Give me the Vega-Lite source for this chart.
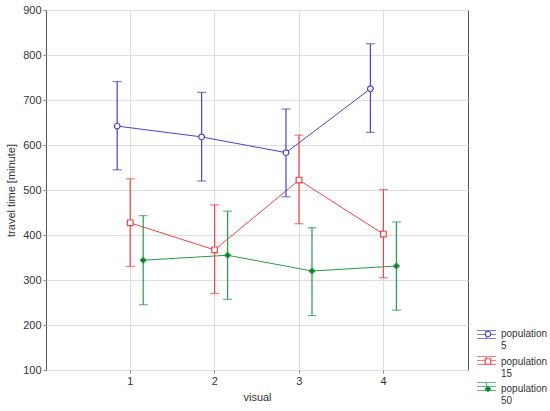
{
  "$schema": "https://vega.github.io/schema/vega-lite/v6.json",
  "autosize": {"type": "none"},
  "padding": {"left": 46, "top": 10, "right": 82, "bottom": 41},
  "width": 422,
  "height": 360,
  "background": "white",
  "config": {
    "font": "Liberation Sans",
    "view": {"stroke": "#555555", "strokeWidth": 1},
    "axis": {
      "labelFont": "Liberation Sans",
      "titleFont": "Liberation Sans",
      "labelFontSize": 11,
      "titleFontSize": 11,
      "labelColor": "#333333",
      "titleColor": "#333333",
      "titleFontWeight": "normal",
      "gridColor": "#dddddd",
      "domainColor": "#555555",
      "tickColor": "#888888",
      "tickSize": 3
    },
    "legend": {
      "labelFont": "Liberation Sans",
      "labelFontSize": 10,
      "labelColor": "#333333",
      "padding": 0
    }
  },
  "data": {
    "values": [
      {"visual": "1", "population": "5", "mean": 642, "lo": 545, "hi": 741},
      {"visual": "2", "population": "5", "mean": 618, "lo": 520, "hi": 717},
      {"visual": "3", "population": "5", "mean": 583, "lo": 485, "hi": 680},
      {"visual": "4", "population": "5", "mean": 725, "lo": 628, "hi": 825},
      {"visual": "1", "population": "15", "mean": 427, "lo": 330, "hi": 525},
      {"visual": "2", "population": "15", "mean": 367, "lo": 270, "hi": 467},
      {"visual": "3", "population": "15", "mean": 522, "lo": 425, "hi": 622},
      {"visual": "4", "population": "15", "mean": 402, "lo": 305, "hi": 501},
      {"visual": "1", "population": "50", "mean": 344, "lo": 245, "hi": 443},
      {"visual": "2", "population": "50", "mean": 355, "lo": 257, "hi": 453},
      {"visual": "3", "population": "50", "mean": 320, "lo": 221, "hi": 416},
      {"visual": "4", "population": "50", "mean": 331, "lo": 233, "hi": 429}
    ]
  },
  "encoding": {
    "x": {
      "field": "visual",
      "type": "ordinal",
      "title": "visual",
      "scale": {"type": "band", "domain": ["1", "2", "3", "4"], "paddingInner": 0, "paddingOuter": 0.5},
      "axis": {"labelAngle": 0, "grid": true, "titlePadding": 5, "labelPadding": 2, "domain": false}
    },
    "xOffset": {
      "field": "population",
      "type": "nominal",
      "scale": {"type": "point", "domain": ["5", "15", "50"], "range": [29, 55], "padding": 0}
    },
    "color": {
      "field": "population",
      "type": "nominal",
      "sort": ["5", "15", "50"],
      "scale": {"range": ["#4444cc", "#ee4444", "#2a9a48"]},
      "legend": {
        "title": null,
        "orient": "none",
        "legendX": 430,
        "legendY": 314,
        "labelExpr": "''",
        "symbolType": "M-1,-0.42H1M-1,0H1M-1,0.42H1M0,-0.42V0.42",
        "symbolSize": 361,
        "symbolStrokeWidth": 1.2,
        "rowPadding": 9,
        "labelOffset": 0
      }
    }
  },
  "layer": [
    {
      "mark": {"type": "line", "strokeWidth": 1},
      "encoding": {
        "y": {
          "field": "mean",
          "type": "quantitative",
          "title": "travel time [minute]",
          "scale": {"domain": [100, 900], "nice": false},
          "axis": {"values": [100, 200, 300, 400, 500, 600, 700, 800, 900], "grid": true, "titlePadding": 6, "domain": false}
        }
      }
    },
    {
      "mark": {"type": "rule", "strokeWidth": 1.2},
      "encoding": {
        "y": {"field": "lo", "type": "quantitative"},
        "y2": {"field": "hi"}
      }
    },
    {
      "mark": {"type": "tick", "size": 9, "thickness": 1.2, "orient": "horizontal"},
      "encoding": {"y": {"field": "lo", "type": "quantitative"}}
    },
    {
      "mark": {"type": "tick", "size": 9, "thickness": 1.2, "orient": "horizontal"},
      "encoding": {"y": {"field": "hi", "type": "quantitative"}}
    },
    {
      "mark": {"type": "point", "size": 32, "strokeWidth": 1.2, "opacity": 1},
      "encoding": {
        "y": {"field": "mean", "type": "quantitative"},
        "shape": {
          "field": "population",
          "type": "nominal",
          "scale": {"domain": ["5", "15", "50"], "range": ["circle", "square", "diamond"]},
          "legend": {
            "title": null,
            "orient": "none",
            "legendX": 437,
            "legendY": 319,
            "labelExpr": "['population', datum.label]",
            "symbolSize": 30,
            "symbolStrokeWidth": 1.2,
            "symbolOpacity": 1,
            "rowPadding": 4.5,
            "labelOffset": 8
          }
        },
        "stroke": {
          "field": "population",
          "type": "nominal",
          "scale": {"domain": ["5", "15", "50"], "range": ["#4444cc", "#ee4444", "#2a9a48"]}
        },
        "fill": {
          "field": "population",
          "type": "nominal",
          "scale": {"domain": ["5", "15", "50"], "range": ["#ffffff", "#ffffff", "#0a7a20"]}
        }
      }
    }
  ]
}
